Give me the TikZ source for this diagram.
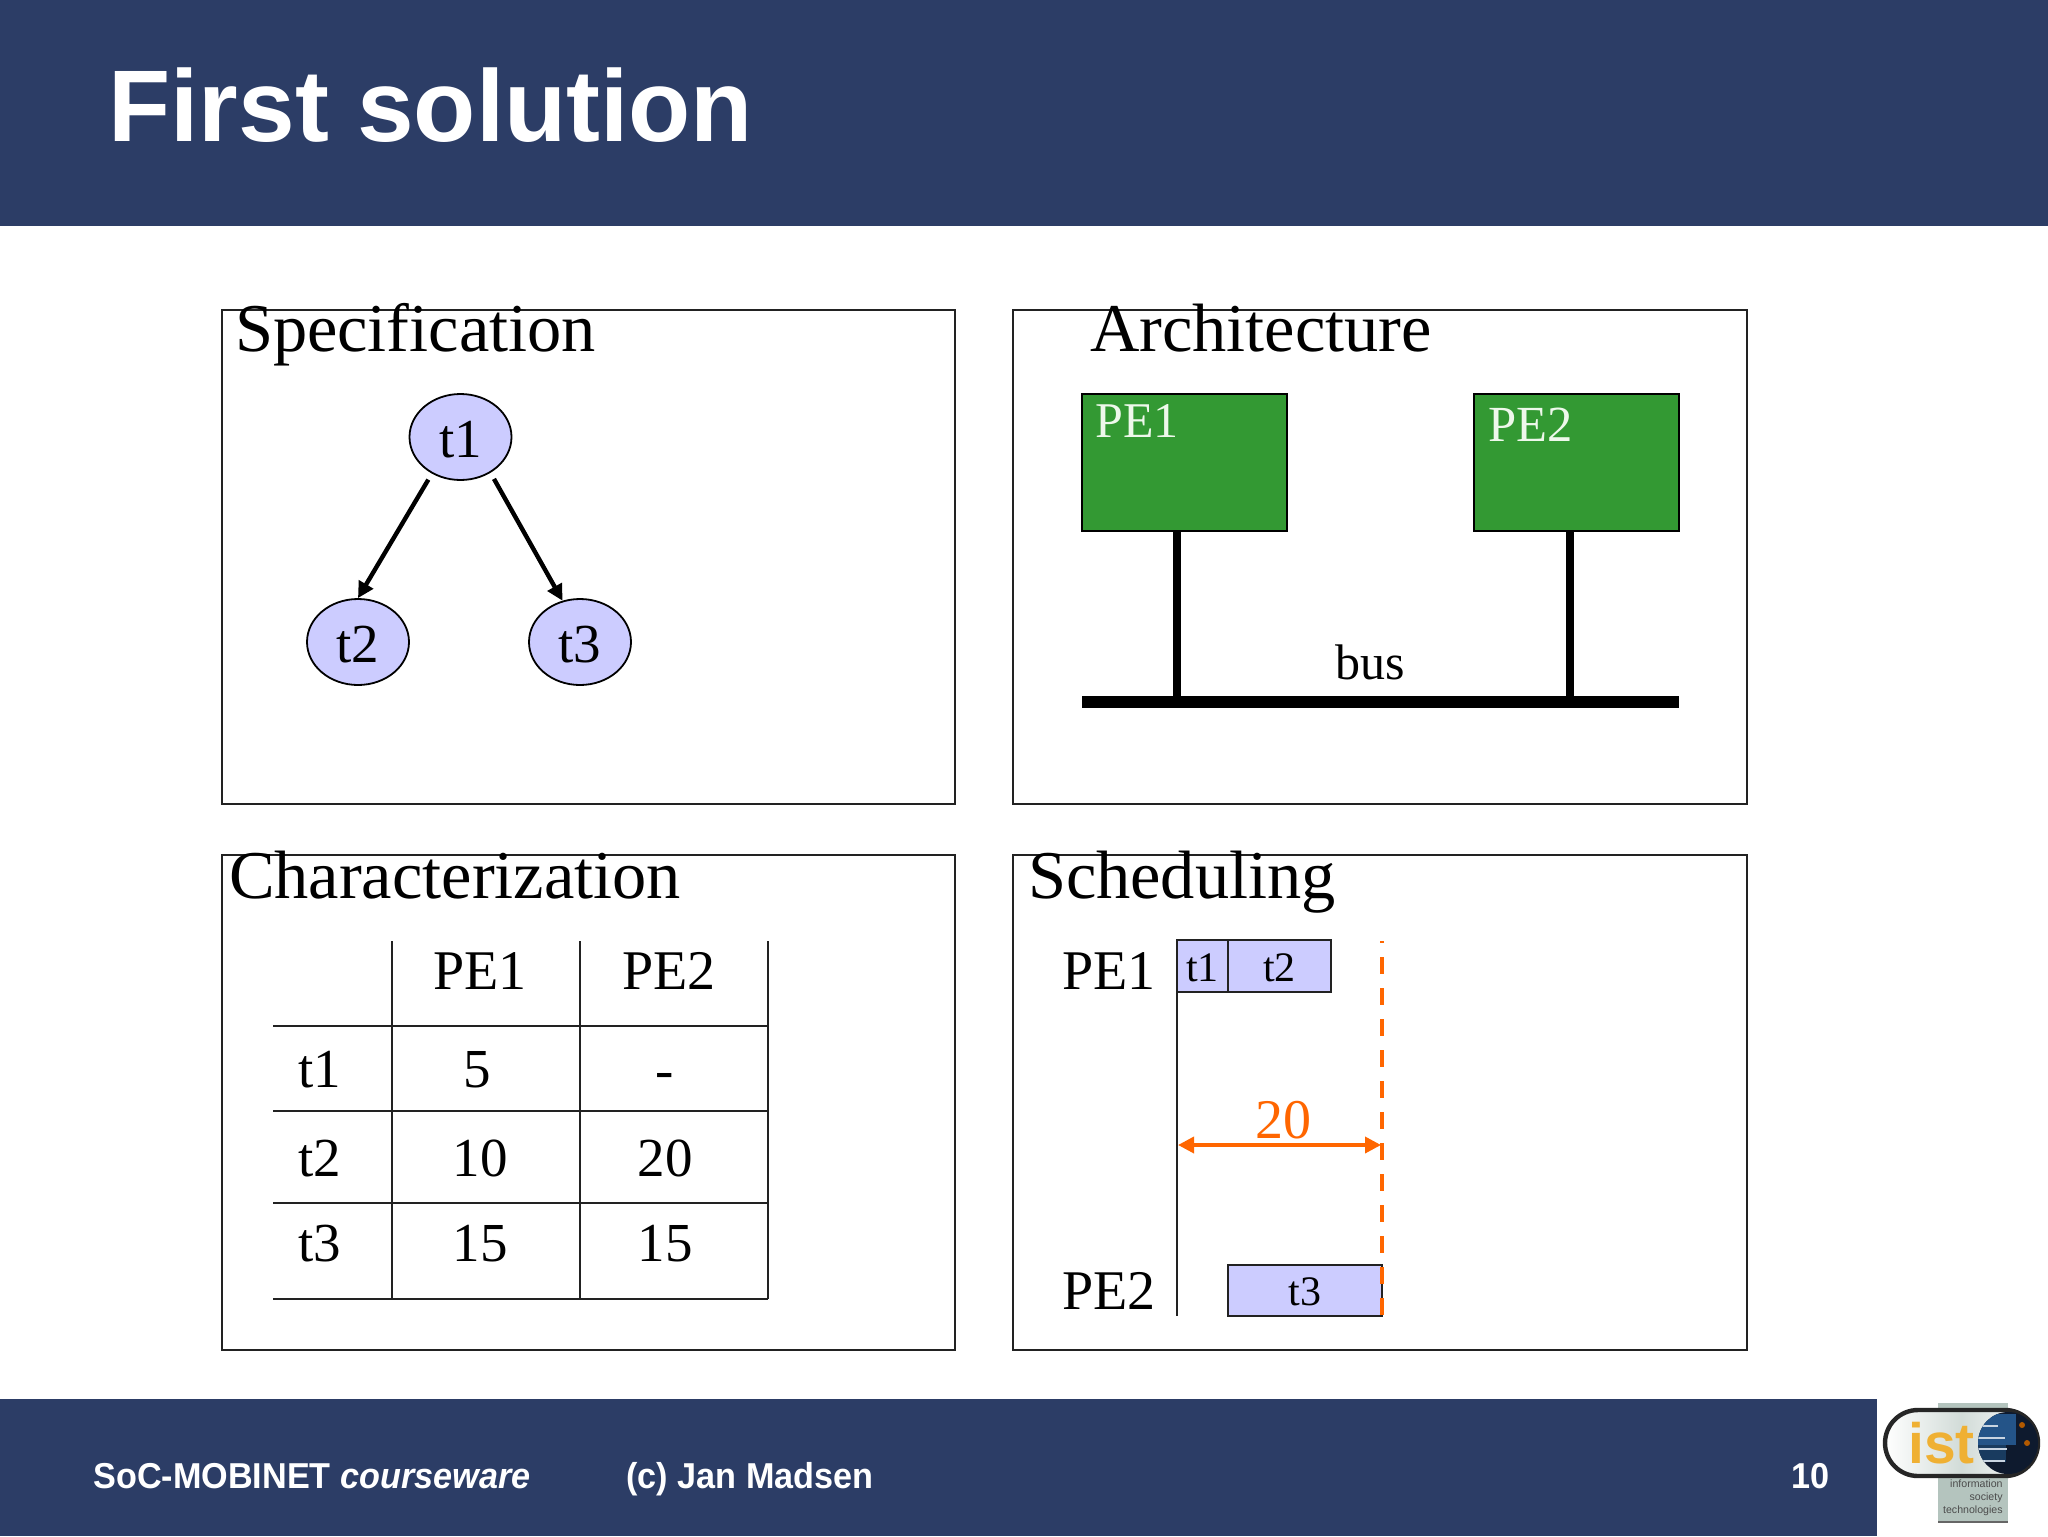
\documentclass[tikz,border=0pt]{standalone}
\usepackage{fontspec}
\setmainfont{Liberation Serif}
\newfontfamily\arialfont{Liberation Sans}
\newfontfamily\footfont[FakeStretch=0.95]{Liberation Sans}
\usetikzlibrary{shapes.geometric,arrows.meta}
\definecolor{navy}{HTML}{2C3D66}
\definecolor{lilac}{HTML}{CCCCFF}
\definecolor{pegreen}{HTML}{339933}
\definecolor{tone}{HTML}{FF6600}
\definecolor{inkline}{HTML}{222222}
\definecolor{logogrey}{HTML}{B4C4BE}
\definecolor{logogold}{HTML}{EFB033}
\definecolor{globedark}{HTML}{0E1A2E}
\definecolor{globeblue}{HTML}{245488}
\newcommand{\fs}[1]{\fontsize{#1}{#1}\selectfont}
\tikzset{
  x=0.5pt,y=-0.5pt,
  lbl/.style={anchor=base west,inner sep=0pt,outer sep=0pt,text=black},
  ctr/.style={anchor=base,inner sep=0pt,outer sep=0pt,text=black},
  heading/.style={lbl,font=\fs{34.2}},
  big/.style={font=\fs{27.5}},
  tasknode/.style={ellipse,draw=black,line width=0.9pt,fill=lilac,minimum width=51pt,minimum height=43pt,inner sep=0pt,text height=20pt,text depth=0pt,font=\fs{27.5}},
  edgearrow/.style={draw=black,line width=2.2pt,-{Triangle[length=8pt,width=8pt]}},
  pebox/.style={draw=black,line width=0.9pt,fill=pegreen,minimum width=102.5pt,minimum height=68.5pt,inner sep=0pt,outer sep=0pt},
  stem/.style={draw=black,line width=4pt},
  panel/.style={draw=inkline,line width=1pt},
  gridline/.style={draw=inkline,line width=1pt},
  bar/.style={draw=inkline,line width=1pt,fill=lilac,inner sep=0pt,outer sep=0pt,text height=15pt,text depth=0pt,font=\fs{21}},
  footertext/.style={anchor=base west,inner sep=0pt,text=white,font=\footfont\bfseries\fs{18}},
}
\begin{document}
\begin{tikzpicture}
\useasboundingbox (0,0) rectangle (2048,1536);
\fill[white] (0,0) rectangle (2048,1536);
% header & footer
\fill[navy] (0,0) rectangle (2048,226);
\fill[navy] (0,1399) rectangle (1877,1536);
\node[anchor=base west,inner sep=0pt,text=white,font=\arialfont\bfseries\fs{50.9}] (title) at (108,141) {First solution};
\node[footertext] (foot1) at (93,1488) {SoC-MOBINET \textit{courseware}};
\node[footertext] (foot2) at (626,1488) {(c) Jan Madsen};
\node[footertext] (foot3) at (1791,1488) {10};
% panels
\draw[panel] (222,310) rectangle (955,804);
\draw[panel] (1013,310) rectangle (1747,804);
\draw[panel] (222,855) rectangle (955,1350);
\draw[panel] (1013,855) rectangle (1747,1350);
\node[heading] (hspec) at (235,351) {Specification};
\node[heading] (harch) at (1090,351) {Architecture};
\node[heading] (hchar) at (229,898) {Characterization};
\node[heading] (hsched) at (1028,898) {Scheduling};
% specification graph
\node[tasknode] (t1) at (460.5,437) {t1};
\node[tasknode] (t2) at (358,642) {t2};
\node[tasknode] (t3) at (580,642) {t3};
\draw[edgearrow,shorten <=3.5pt] (t1.232) -- (t2.north);
\draw[edgearrow,shorten <=3.5pt] (t1.-50) -- (t3.113);
% architecture
\node[pebox,anchor=north west] (pe1) at (1082,394) {};
\node[pebox,anchor=north west] (pe2) at (1474,394) {};
\node[draw=none,fill=black,minimum width=298.5pt,minimum height=6pt,inner sep=0pt,outer sep=0pt,anchor=north west] (busbar) at (1082,696) {};
\coordinate (s1a) at (1177,531);
\coordinate (s1b) at (1177,696);
\coordinate (s2a) at (1570,531);
\coordinate (s2b) at (1570,696);
\draw[stem] (s1a) -- (s1b);
\draw[stem] (s2a) -- (s2b);
\node[anchor=base west,inner sep=0pt,text={rgb,255:red,238;green,248;blue,235},font=\fs{25}] (pe1l) at (1095,437) {PE1};
\node[anchor=base west,inner sep=0pt,text={rgb,255:red,238;green,248;blue,235},font=\fs{25.3}] (pe2l) at (1488,441) {PE2};
\node[lbl,font=\fs{25}] (buslabel) at (1335,679) {bus};
% characterization table
\foreach \yy in {1026,1111,1203,1299} \draw[gridline] (273,\yy) -- (768,\yy);
\foreach \xx in {392,580,768} \draw[gridline] (\xx,941) -- (\xx,1299);
\node[ctr,font=\fs{28}] (tpe1) at (480,989) {PE1};
\node[ctr,font=\fs{28}] (tpe2) at (669,989) {PE2};
\node[lbl,big] (tt1) at (298,1087) {t1};
\node[lbl,big] (tt2) at (298,1176) {t2};
\node[lbl,big] (tt3) at (298,1261) {t3};
\node[ctr,big] (c11) at (477,1087) {5};
\node[ctr,big] (c12) at (665,1088) {-};
\node[ctr,big] (c21) at (480,1176) {10};
\node[ctr,big] (c22) at (665,1176) {20};
\node[ctr,big] (c31) at (480,1261) {15};
\node[ctr,big] (c32) at (665,1261) {15};
% scheduling
\node[lbl,font=\fs{28}] (spe1) at (1062,989) {PE1};
\node[lbl,font=\fs{28}] (spe2) at (1062,1309) {PE2};
\draw[gridline] (1177,940) -- (1177,1316);
\node[bar,anchor=north west,minimum width=25.5pt,minimum height=26pt] (b1) at (1177,940) {t1};
\node[bar,anchor=north west,minimum width=51.5pt,minimum height=26pt] (b2) at (1228,940) {t2};
\node[bar,anchor=north west,minimum width=77pt,minimum height=25.5pt] (b3) at (1228,1265) {t3};
\draw[tone,line width=2pt,dash pattern=on 8.5pt off 7pt,dash phase=7.5pt] (1382,941) -- (1382,1317);
\draw[tone,line width=1.8pt,{Triangle[length=8pt,width=8pt]}-{Triangle[length=8pt,width=8pt]}] (1178,1145) -- (1381,1145);
\node[ctr,font=\fs{28},text=tone] (dur) at (1283,1138) {20};
% logo
\fill[logogrey] (1938,1403) rectangle (2008,1521);
\draw[black!60,line width=0.8pt] (1938,1522) -- (2008,1522);
\draw[rounded corners=16.5pt,line width=2.2pt,draw=black!85,left color=white,right color=white,middle color=logogrey!60] (1885,1410) rectangle (2038,1476);
\node[anchor=base west,inner sep=0pt,text=logogold,font=\arialfont\bfseries\fs{28.5}] (ist) at (1908,1463) {ist};
\begin{scope}
\clip (2008,1443) ellipse [x radius=30,y radius=31];
\fill[globedark] (1975,1410) rectangle (2040,1476);
\fill[globeblue] (1978,1414) rectangle (2016,1445);
\fill[globeblue!70!black] (1978,1445) rectangle (2006,1462);
\foreach \yy/\ww in {1426/20,1438/27,1449/29,1461/27}
  \draw[white!75!globeblue,line width=0.8pt] (1978,\yy) -- ++(\ww,0);
\end{scope}
\fill[orange!70!black] (2022,1425) circle [radius=3] (2027,1443) circle [radius=3];
\foreach \nn/\yy/\tt in {li1/1487/information,li2/1500/society,li3/1513/technologies}
  \node[anchor=base east,inner sep=0pt,text=black!70,font=\arialfont\fs{5.3}] (\nn) at (2003,\yy) {\tt};
\end{tikzpicture}
\end{document}
